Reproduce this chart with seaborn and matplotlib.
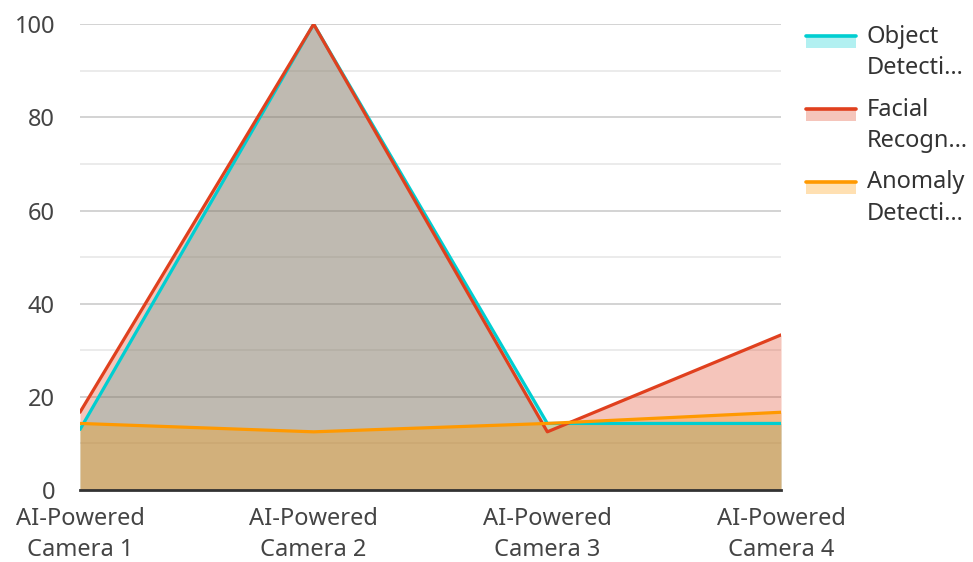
import numpy as np
import pandas as pd
import matplotlib
matplotlib.use("Agg")
import matplotlib.pyplot as plt
import seaborn as sns
from matplotlib.legend_handler import HandlerBase
from matplotlib.patches import Rectangle
from matplotlib.lines import Line2D
from matplotlib.ticker import MultipleLocator

# data
cameras = ["AI-Powered\nCamera 1", "AI-Powered\nCamera 2", "AI-Powered\nCamera 3", "AI-Powered\nCamera 4"]
object_detection = [13.0, 100.0, 14.3, 14.3]
facial_recognition = [16.7, 100.0, 12.5, 33.3]
anomaly_detection = [14.3, 12.5, 14.3, 16.7]
legend_labels = ["Object\nDetecti…", "Facial\nRecogn…", "Anomaly\nDetecti…"]
colors = ["#00CED1", "#E0401E", "#FF9900"]

df = pd.DataFrame({
    "x": list(range(len(cameras))) * 3,
    "value": object_detection + facial_recognition + anomaly_detection,
    "series": sum([[s] * len(cameras) for s in legend_labels], []),
})

sns.set_style("white")
plt.rcParams["font.family"] = ["Noto Sans", "DejaVu Sans"]

fig = plt.figure(figsize=(9.73, 5.62), dpi=100)
ax = fig.add_axes([0.0822, 0.128, 0.7205, 0.829])

# filled areas + lines, drawn in series order
for label, color in zip(legend_labels, colors):
    sub = df[df["series"] == label]
    ax.fill_between(sub["x"], sub["value"], 0, color=color, alpha=0.3, linewidth=0, zorder=2)
    sns.lineplot(data=sub, x="x", y="value", color=color, linewidth=2.3, ax=ax, zorder=3, legend=False)

ax.set_xlim(0, len(cameras) - 1)
ax.set_ylim(0, 100)
ax.yaxis.set_major_locator(MultipleLocator(20))
ax.yaxis.set_minor_locator(MultipleLocator(10))
ax.grid(which="major", axis="y", color="#c8c8c8", linewidth=1.1, zorder=1)
ax.grid(which="minor", axis="y", color="#e6e6e6", linewidth=1.1, zorder=1)
ax.set_axisbelow(True)

ax.set_xticks(range(len(cameras)))
ax.set_xticklabels(cameras, linespacing=1.38)
ax.tick_params(axis="both", which="both", length=0, labelsize=17, colors="#444444")
ax.tick_params(axis="x", pad=12)
ax.tick_params(axis="y", pad=18)
ax.set_xlabel("")
ax.set_ylabel("")

for side in ["top", "right", "left"]:
    ax.spines[side].set_visible(False)
ax.spines["bottom"].set_color("#333333")
ax.spines["bottom"].set_linewidth(2)
ax.spines["bottom"].set_zorder(4)


# legend swatch: light patch with the line across its top, level with the first text line
class AreaHandler(HandlerBase):
    def create_artists(self, legend, orig_handle, xdescent, ydescent, width, height, fontsize, trans):
        c = orig_handle.get_color()
        top = height / 2 + 0.7 * fontsize
        ph = 0.5 * fontsize
        rect = Rectangle((-xdescent, top - ph - ydescent), width, ph, facecolor=c, alpha=0.3,
                         edgecolor="none", transform=trans)
        line = Line2D([-xdescent, -xdescent + width], [top - ydescent, top - ydescent], color=c,
                      linewidth=2.6, transform=trans)
        return [rect, line]


handles = [Line2D([], [], color=c) for c in colors]
leg = fig.legend(handles, legend_labels, handler_map={Line2D: AreaHandler()},
                 loc="upper left", bbox_to_anchor=(0.819, 0.973), frameon=False,
                 fontsize=17, handlelength=2.1, handleheight=0.8, handletextpad=0.45,
                 labelspacing=0.75, borderaxespad=0)
for t in leg.get_texts():
    t.set_color("#333333")
    t.set_linespacing(1.4)

plt.savefig("out.png", dpi=100)
